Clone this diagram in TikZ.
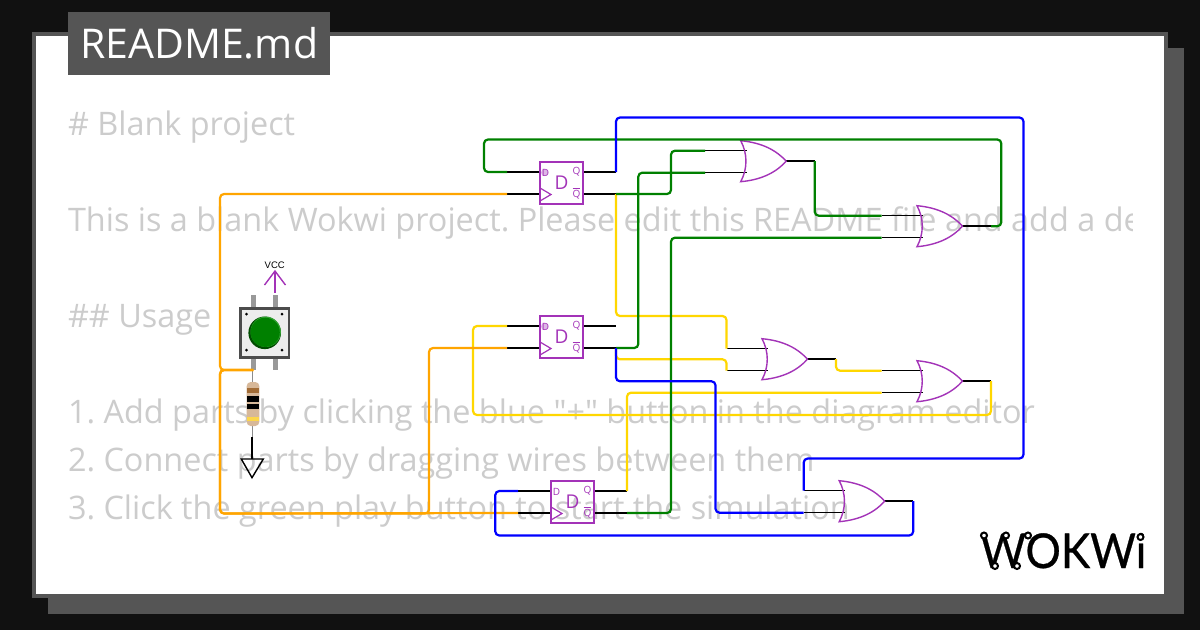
\documentclass[tikz,border=0pt]{standalone}
\usepackage{fontspec}
\setmainfont{Open Sans}
\newfontfamily\readmefont{Open Sans}
\newfontfamily\labelfont{Liberation Sans}
\newfontfamily\logofont[FakeBold=0.6]{Lato}
\usetikzlibrary{positioning}
\usetikzlibrary{calc}
\definecolor{frame}{HTML}{555555}
\definecolor{backdrop}{HTML}{111111}
\definecolor{chip}{HTML}{A333B8}
\definecolor{wokgreen}{HTML}{008000}
\definecolor{wokblue}{HTML}{0000FF}
\definecolor{wokorange}{HTML}{FFA500}
\definecolor{wokgold}{HTML}{FFD700}
\definecolor{skin}{HTML}{D7B899}
\frenchspacing

\begin{document}
\begin{tikzpicture}[
	x = 1pt, y = -1pt,
	wire/.style = {line width = 2.2pt, rounded corners = 4pt},
	pin/.style = {black, line width = 1.5pt},
	readme/.style = {
	  anchor = base west, inner sep = 0pt, outer sep = 0pt,
	  text = black!20, font = \readmefont\fontsize{32.4}{32}\selectfont,
	},
	ffpin/.style = {
	  chip, inner sep = 0pt, font = \fontsize{10}{10}\selectfont,
	},
	ring/.style = {
	  draw = black, fill = white, line width = 2pt,
	},
	orgate/.pic = {
	  \coordinate (-a) at (-35.5, 10);
	  \coordinate (-b) at (-35.5, 32);
	  \coordinate (-out) at (74, 20.5);
	  \draw[pin] (-a) -- (6, 10);
	  \draw[pin] (-b) -- (6, 32);
	  \draw[pin] (45, 20.5) -- (-out);
	  \draw[chip, line width = 1.4pt, line join = miter]
		(0, 0) .. controls (22, 2) and (36, 10) .. (45.5, 20.5)
		.. controls (36, 31) and (22, 39) .. (0, 41)
		.. controls (7, 28) and (7, 13) .. cycle;
	},
	flipflop/.pic = {
	  \coordinate (-d) at (-33, 10);
	  \coordinate (-clk) at (-33, 32);
	  \coordinate (-q) at (76, 10);
	  \coordinate (-qn) at (76, 32);
	  \draw[pin] (-d) -- (0, 10);
	  \draw[pin] (-clk) -- (0, 32);
	  \draw[pin] (43, 10) -- (-q);
	  \draw[pin] (43, 32) -- (-qn);
	  \draw[chip, line width = 1.2pt] (0, 0) rectangle (43, 42);
	  \draw[chip, line width = 1.2pt] (0, 26) -- (11, 32.5) -- (0, 39);
	  \node[ffpin] (-dlabel) at (5.5, 10.5) {D};
	  \node[ffpin] (-qlabel) at (36.5, 10) {Q};
	  \node[ffpin] (-qnlabel) at (36.5, 31.5) {\(\overline{\mbox{Q}}\)};
	  \node[ffpin, font = \fontsize{19}{19}\selectfont]
		(-title) at (21.5, 20.5) {D};
	},
  ]

  \useasboundingbox (0, 0) rectangle (1200, 630);
  \fill[backdrop] (0, 0) rectangle (1200, 630);
  \fill[frame] (48, 48) rectangle (1184, 614);
  \fill[frame] (32, 32) rectangle (1168, 598);
  \fill[white] (36, 36) rectangle (1164, 594);

  \begin{scope}
	\clip (68, 90) rectangle (1132, 540);
	\node[readme] (L1) at (68, 135.5) {\# Blank project};
	\node[readme] (L3) at (68, 231.5)
	  {This is a blank Wokwi project. Please edit this README file and add a de};
	\node[readme] (L5) at (68, 327.5) {\#\# Usage};
	\node[readme] (L7) at (68, 423.5)
	  {1. Add parts by clicking the blue "+" button in the diagram editor};
	\node[readme] (L8) at (68, 471.5)
	  {2. Connect parts by dragging wires between them};
	\node[readme] (L9) at (68, 519.5)
	  {3. Click the green play button to start the simulation};
  \end{scope}

  \fill[frame] (68, 12) rectangle (330, 75);
  \node[anchor = base west, inner sep = 0pt, text = white,
	font = \fontsize{41}{41}\selectfont] (Title) at (80, 58) {README.md};

  % parts
  \path (540, 162) pic (FFa) {flipflop};
  \path (540, 316) pic (FFb) {flipflop};
  \path (551, 481) pic (FFc) {flipflop};
  \fill[chip, opacity = 0.35] (544.5, 172.5) circle (3.5);
  \fill[chip, opacity = 0.35] (544.5, 326.5) circle (3.5);
  \path (740.7, 140.7) pic (orA) {orgate};
  \path (917, 205.7) pic (orB) {orgate};
  \path (762, 338.7) pic (orC) {orgate};
  \path (917, 360.7) pic (orD) {orgate};
  \path (839.2, 480.7) pic (orE) {orgate};

  % button
  \foreach \x in {253.3, 275.7} {
	\draw[black!40, line width = 4.5pt] (\x, 295) -- (\x, 370);
  }
  \draw[black!70, fill = black!7, line width = 2.5pt]
	(240.5, 308.5) rectangle (289, 357.5);
  \foreach \x in {246.5, 282} {
	\foreach \y in {314, 350} {
	  \fill[black] (\x, \y) circle (1.5);
	}
  }
  \fill[green!30!black] (264.7, 332.8) circle (16.3);
  \fill[green!55!black!80!white] (265.7, 331.8) circle (15.2);
  \fill[wokgreen] (265.2, 332.3) circle (14.6);
  \coordinate (BTN) at (253.3, 370);

  % vcc
  \node[inner sep = 0pt, font = \labelfont\fontsize{9.5}{9.5}\selectfont]
	(VCC) at (274.7, 265) {VCC};
  \draw[chip, line width = 1.4pt] (275, 293) -- (275, 271);
  \draw[chip, line width = 1.4pt] (264.5, 285) -- (275, 271) -- (285.5, 285);

  % resistor
  \draw[black!45, line width = 1.6pt] (252.5, 370) -- (252.5, 437);
  \fill[skin, rounded corners = 4pt]
	(246.7, 382) rectangle (259.3, 426);
  \fill[brown!85!black] (246.7, 387.5) rectangle (259.3, 392.5);
  \fill[black] (246.7, 396) rectangle (259.3, 401.5);
  \fill[black] (246.7, 404) rectangle (259.3, 408.5);
  \fill[yellow!60!orange!70!white] (246.7, 417) rectangle (259.3, 421);

  % ground
  \coordinate (GND) at (252, 459);
  \draw[pin] (252, 437) -- (GND);
  \draw[black, line width = 1.4pt, line join = miter]
	(241.3, 459) -- (263.3, 459) -- (252, 477.7) -- cycle;

  % wires
  \draw[wire, wokgold] (FFa-qn) -- (616, 316) -- (726.5, 316) -- (orC-a);
  \draw[wire, wokgold] (FFb-qn) -- (616, 359.3) -- (726.5, 359.3) -- (orC-b);
  \draw[wire, wokgold] (orC-out) |- (orD-a);
  \draw[wire, wokgold] (orD-b) -- (627, 392.7) -- (FFc-q);
  \draw[wire, wokgold] (orD-out) -- (991, 415) -- (473, 415) -- (473, 326) -- (FFb-d);

  \draw[wire, wokorange] (FFa-clk) -- (220, 194) -- (220, 370) -- (BTN);
  \draw[wire, wokorange] (BTN) -- (220, 370) -- (220, 513.5) -- (FFc-clk);
  \draw[wire, wokorange] (BTN) -- (220, 370) -- (220, 513.5) -- (429, 513.5)
	-- (429, 348) -- (FFb-clk);

  \draw[wire, wokgreen] (orB-out) -- (1001.3, 226.2) -- (1001.3, 139.5)
	-- (484, 139.5) -- (484, 172) -- (FFa-d);
  \draw[wire, wokgreen] (FFa-qn) -- (671, 194) -- (671, 150.7) -- (orA-a);
  \draw[wire, wokgreen] (orA-b) -- (638.3, 172.7) -- (638.3, 348) -- (FFb-qn);
  \draw[wire, wokgreen] (orA-out) |- (orB-a);
  \draw[wire, wokgreen] (orB-b) -- (671, 237.7) -- (671, 513) -- (FFc-qn);

  \draw[wire, wokblue] (FFa-q) -- (616, 117.5) -- (1023.5, 117.5) -- (1023.5, 458.5)
	-- (803.7, 458.5) -- (orE-a);
  \draw[wire, wokblue] (FFb-qn) -- (616, 381.3) -- (715.5, 381.3) -- (715.5, 512.7) -- (orE-b);
  \draw[wire, wokblue] (FFc-d) -- (495.3, 491) -- (495.3, 535.5) -- (913.2, 535.5)
	-- (orE-out);

  % logo
  \node[inner sep = 0pt, anchor = base west, xscale = 0.92,
	font = \logofont\fontsize{48}{48}\selectfont] (Logo) at (980, 568) {WOKWi};
  \foreach \x/\y in {984/535.5, 1006/535.5, 1028/535.5, 995/566, 1017/566, 1140.5/537} {
	\draw[ring] (\x, \y) circle (3);
  }
\end{tikzpicture}
\end{document}
